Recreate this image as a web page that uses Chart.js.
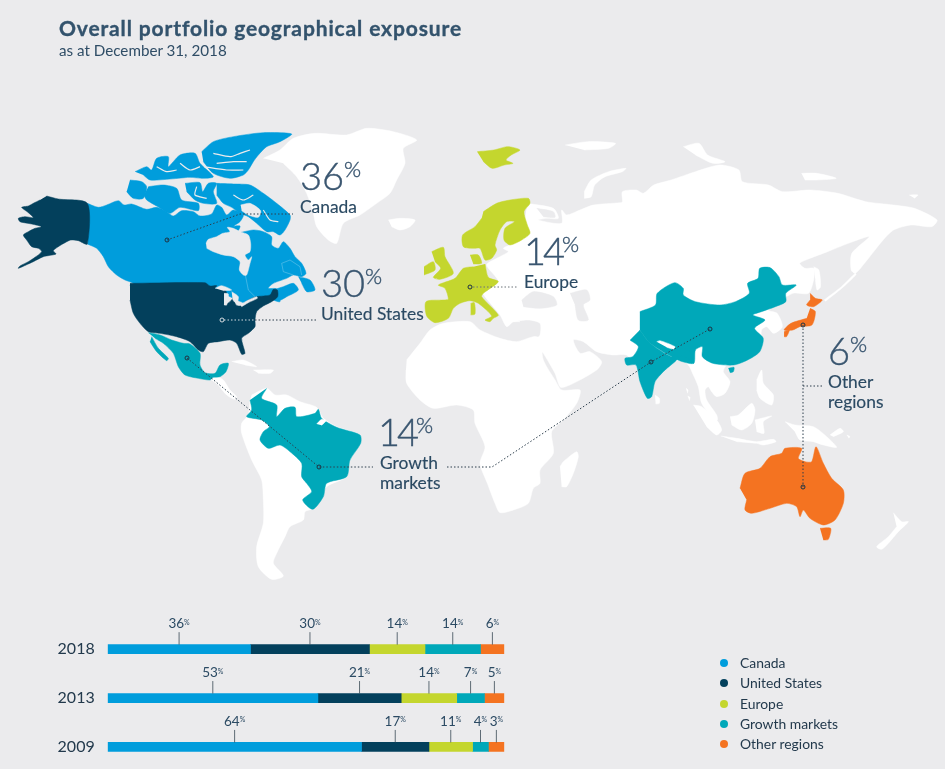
<!DOCTYPE html>
<html>
<head>
<meta charset="utf-8">
<title>Overall portfolio geographical exposure</title>
<script src="https://cdn.jsdelivr.net/npm/chart.js@4"></script>
<style>
  html, body { margin: 0; padding: 0; background: #ebebed; }
  body { position: relative; width: 945px; height: 769px; overflow: hidden; font-family: Lato, sans-serif; color: #2f4d66; }
  canvas { position: absolute; }
  .txt { position: absolute; white-space: nowrap; line-height: 1; }
  .big { font-size: 38px; font-weight: 300; color: #3a5670; -webkit-text-stroke: .4px #3a5670; }
  .big sup { font-size: 22px; vertical-align: 13px; line-height: 0; letter-spacing: 0; }
  .lab { font-size: 17.4px; line-height: 20px; color: #2b4a63; -webkit-text-stroke: .15px #2b4a63; }
  .leg { font-size: 13.9px; color: #22394c; }
  .dot { position: absolute; width: 8px; height: 8px; border-radius: 50%; }
</style>
</head>
<body>
<canvas id="mapa" width="945" height="769" style="left:0;top:0"></canvas>
<canvas id="barras" width="520" height="194" style="left:0;top:600px"></canvas>

<div class="txt" id="titulo" style="left:59px;top:17px;font-size:21px;font-weight:700;letter-spacing:.87px;color:#33536d;-webkit-text-stroke:.35px #33536d"></div>
<div class="txt" id="subtitulo" style="left:59px;top:43px;font-size:15.2px;color:#2f4d66"></div>
<div id="rotulos"></div>
<div id="legenda"></div>

<script>
const titulo = 'Overall portfolio geographical exposure';
const subtitulo = 'as at December 31, 2018';

const anos = ['2018', '2013', '2009'];
const regioes = ['Canada', 'United States', 'Europe', 'Growth markets', 'Other regions'];
const canada = [36, 53, 64];
const estadosUnidos = [30, 21, 17];
const europa = [14, 14, 11];
const crescimento = [14, 7, 4];
// the 2009 row prints 3% but the bar is drawn 4 wide, so it still reaches the end
const outras = [6, 5, 4];
const outrasImpresso = [6, 5, 3];

const cores = ['#009ddc', '#03405c', '#c4d62e', '#00a8b9', '#f47321'];
const corBranco = '#ffffff';
const corFundo = '#ebebed';

// callouts on the map
const destaques = [
  { pct: '36', nome: ['Canada'], x: 300, y: 156, lx: 300 },
  { pct: '30', nome: ['United States'], x: 321, y: 263, lx: 321 },
  { pct: '14', nome: ['Europe'], x: 524, y: 231, lx: 524 },
  { pct: '14', nome: ['Growth', 'markets'], x: 378, y: 412, lx: 380 },
  { pct: '6', nome: ['Other', 'regions'], x: 828, y: 331, lx: 828 }
];

// crop frames the outlines were traced in
const A = [0, 120, 3, 3];
const B = [120, 320, 3, 3];
const C = [400, 130, 2.877, 3];
const D = [560, 340, 3, 3];
const E = [400, 310, 3, 3];
const G = [420, 190, 3, 3];

function pts(q, lista) {
  const saida = [];
  for (let i = 0; i < lista.length; i += 2) {
    saida.push({ x: q[0] + lista[i] / q[2], y: q[1] + lista[i + 1] / q[3] });
  }
  return saida;
}

const alasca = pts(A, [140,228, 175,237, 262,250, 262,372, 235,362, 212,360, 195,368, 178,378, 160,392, 168,402, 130,410, 100,425, 78,435, 55,445, 60,438, 85,425, 105,412, 125,395, 115,385, 95,380, 80,360, 70,345, 85,335, 105,325, 125,320, 95,312, 60,305, 55,295, 75,290, 100,293, 85,278, 65,262, 85,258, 100,250, 120,240]);
const canadaMain = pts(A, [262,250, 295,262, 320,255, 355,242, 372,255, 395,252, 440,268, 470,262, 500,275, 520,288, 545,272, 580,275, 600,288, 635,282, 650,255, 665,262, 680,285, 700,270, 730,285, 720,305, 700,320, 700,340, 760,330, 790,335, 815,350, 815,375, 835,385, 850,365, 870,385, 885,410, 905,430, 918,460, 905,470, 880,465, 860,475, 820,490, 805,505, 830,507, 840,545, 800,535, 740,550, 700,535, 640,505, 615,495, 390,495, 405,505, 400,490, 375,480, 350,465, 325,440, 310,410, 290,385, 262,372]);
const maritimas = pts(A, [825,508, 850,500, 880,490, 895,510, 860,530, 840,540, 830,525]);
const terraNova = pts(A, [895,470, 930,480, 945,510, 920,515, 905,490]);
const baiaHudson = pts(A, [618,370, 625,358, 650,350, 668,340, 690,335, 682,322, 700,325, 720,335, 745,345, 752,370, 750,395, 735,405, 745,420, 755,410, 750,430, 740,465, 730,465, 718,450, 720,425, 700,410, 670,405, 640,395, 620,385]);
const ilhasArticas = [
  pts(A, [605,95, 640,65, 700,50, 790,38, 875,42, 840,65, 800,80, 775,105, 760,125, 745,150, 730,165, 690,175, 640,160, 610,125]),
  pts(A, [650,190, 700,192, 750,195, 790,220, 830,250, 870,285, 870,300, 855,330, 840,345, 820,335, 800,335, 770,310, 745,290, 720,280, 695,262, 670,250, 650,225]),
  pts(A, [555,190, 600,188, 608,215, 625,190, 650,190, 640,215, 650,250, 610,250, 585,240, 560,215]),
  pts(A, [405,155, 440,140, 455,150, 470,115, 505,110, 505,140, 540,105, 585,100, 600,130, 640,170, 610,175, 570,172, 535,175, 500,178, 450,180, 430,165]),
  pts(A, [390,180, 425,185, 440,200, 430,235, 400,235, 380,215]),
  pts(A, [445,200, 490,195, 530,205, 545,240, 595,250, 595,272, 540,262, 510,280, 470,258, 440,240, 432,225]),
  pts(A, [690,320, 720,318, 712,335, 695,335])
];
const foxe = pts(A, [722,255, 750,250, 782,272, 775,292, 745,285, 725,272]);
const canaisArticos = [
  pts(A, [640,100, 690,110, 720,100, 750,90]),
  pts(A, [650,130, 700,125, 740,125]),
  pts(A, [612,140, 680,150, 730,150]),
  pts(A, [470,140, 500,155, 530,150]),
  pts(A, [540,130, 570,150, 600,140]),
  pts(A, [700,225, 730,240, 760,225]),
  pts(A, [790,270, 810,300, 835,305]),
  pts(A, [590,200, 585,225, 620,235])
];
// faint provincial borders seen inside Canada
const divisas = [
  pts(A, [735,460, 745,510, 765,530]),
  pts(A, [845,430, 870,420, 900,440, 905,465]),
  pts(A, [845,430, 850,455, 880,465])
];
const eua = pts(A, [390,490, 615,488, 630,498, 650,497, 645,505, 675,510, 680,520, 672,555, 690,545, 700,535, 708,555, 720,558, 745,540, 770,530, 810,525, 820,508, 832,510, 833,530, 815,545, 790,558, 770,575, 765,600, 765,620, 745,640, 725,655, 735,700, 725,703, 710,670, 690,660, 655,665, 625,670, 610,695, 595,690, 570,665, 530,650, 480,640, 445,635, 420,610, 400,580, 390,540]);
const lagos = [
  pts(A, [645,505, 665,497, 695,510, 670,512]),
  pts(A, [672,520, 685,522, 680,555, 672,555]),
  pts(A, [695,515, 715,530, 710,550, 698,540]),
  pts(A, [720,555, 745,540, 770,530, 772,535, 745,548, 725,560])
];
const groenlandia = pts(A, [790,115, 840,90, 880,55, 945,40, 1040,45, 1100,25, 1180,35, 1250,60, 1210,85, 1215,130, 1190,180, 1170,220, 1130,250, 1080,285, 1030,310, 1010,370, 985,360, 950,320, 940,280, 920,220, 890,170, 850,130]);
const islandia = pts(A, [1165,300, 1200,295, 1245,300, 1230,320, 1200,330, 1175,320]);

const mexico = pts(B, [85,38, 120,45, 155,60, 190,70, 210,72, 240,100, 240,135, 255,158, 285,160, 300,135, 325,130, 318,155, 300,170, 280,172, 270,180, 235,175, 195,165, 175,140, 160,100, 130,70, 105,55]);
const bajaCalifornia = pts(B, [95,50, 115,85, 145,115, 140,122, 110,95, 90,65]);
const americaCentral = pts(B, [270,178, 290,170, 310,180, 330,210, 350,230, 345,238, 320,225, 295,195]);
const cuba = pts(B, [335,125, 370,120, 410,140, 375,135]);
const hispaniola = pts(B, [400,150, 460,150, 450,160, 415,160]);
const americaSul = pts(B, [395,225, 440,205, 465,225, 500,225, 540,245, 590,262, 610,295, 650,320, 720,345, 720,370, 690,420, 680,470, 620,500, 580,565, 555,575, 550,600, 510,620, 495,650, 470,700, 460,730, 490,768, 455,778, 415,740, 410,680, 430,610, 430,540, 425,480, 395,420, 365,340, 365,310, 385,285, 390,240]);
const colombiaBrasil = pts(B, [440,205, 425,235, 470,255, 470,290, 495,265, 525,262, 530,290, 585,280, 595,268, 605,295, 650,322, 720,345, 722,370, 690,420, 680,470, 620,490, 610,530, 578,568, 548,540, 575,515, 560,490, 545,470, 545,430, 510,395, 480,375, 445,385, 420,360, 430,335, 448,320, 425,300, 380,290, 395,270, 390,240]);
const amazonas = pts(B, [590,312, 605,298, 618,302, 605,316]);

const africa = pts(E, [20,150, 60,100, 90,60, 130,40, 210,35, 240,60, 300,85, 350,95, 400,80, 420,85, 430,150, 465,210, 485,240, 540,240, 530,280, 490,330, 455,365, 460,430, 420,480, 420,520, 400,535, 385,580, 340,600, 300,608, 285,580, 262,520, 240,460, 255,410, 225,340, 220,300, 170,285, 100,295, 60,270, 20,220, 18,180]);
const madagascar = pts(D, [0,380, 10,365, 50,335, 55,350, 40,400, 20,440, 5,440]);

const eurasia = [
  ...pts(G, [322,40, 400,55, 415,85, 380,85, 355,90, 425,100, 425,60, 440,75, 480,60, 520,45, 600,38]),
  ...pts(C, [640,215, 640,185, 680,180, 700,190, 730,165, 780,150, 850,125, 920,105, 975,120, 985,155, 1060,165, 1100,185, 1180,180, 1260,190, 1340,215, 1420,225, 1480,235, 1545,270, 1530,290, 1470,285, 1420,300, 1390,330, 1340,395, 1310,430, 1298,420, 1300,370, 1350,320, 1290,340, 1230,365, 1180,385, 1150,400, 1165,415, 1190,415, 1190,450, 1175,490, 1130,490, 1060,540, 1085,550, 1100,590, 1075,610, 1055,590, 1040,600, 1040,640]),
  ...pts(D, [600,30, 560,60, 520,75, 500,75, 490,95, 510,125, 495,160, 470,170, 455,155, 445,140, 435,150, 440,180, 470,225, 472,240, 455,230, 425,190, 415,140, 400,105, 385,75, 360,60, 345,65, 310,95, 280,110, 240,90]),
  ...pts(E, [680,135, 640,135, 590,125, 550,95, 520,90, 540,130, 570,125, 605,155, 590,180, 520,220, 482,232, 465,190, 430,130, 403,95, 420,75, 420,40, 385,30, 340,35]),
  ...pts(G, [300,395, 280,395, 260,410, 240,375, 195,320, 190,310, 235,275, 200,225, 230,205, 265,185, 250,175, 270,165, 305,150])
];
const marNegro = pts(G, [305,330, 340,305, 400,320, 410,345, 360,355, 310,350]);
const marCaspio = pts(G, [450,310, 500,300, 510,330, 490,345, 505,390, 475,390, 465,345]);
const marBranco = pts(G, [350,55, 400,65, 405,82, 370,80]);
const ilhasBrancas = [
  pts(C, [530,185, 550,150, 600,125, 650,115, 640,125, 590,140, 560,165, 550,200, 530,205]),
  pts(C, [475,45, 540,35, 620,40, 600,55, 530,60]),
  pts(C, [815,50, 860,40, 885,75, 935,95, 900,100, 850,75]),
  pts(C, [1155,130, 1200,130, 1255,145, 1200,150, 1165,150]),
  pts(C, [1465,195, 1490,195, 1480,205]),
  pts(C, [1190,410, 1205,420, 1210,470, 1200,480, 1195,450]),
  pts(C, [1220,510, 1270,470, 1310,430, 1312,434, 1272,474, 1224,514]),
  pts(D, [285,165, 298,175, 298,190, 287,192]),
  pts(D, [400,195, 425,200, 470,240, 485,270, 470,285, 440,260]),
  pts(D, [482,288, 530,295, 590,305, 640,298, 648,305, 610,315, 590,310, 530,305]),
  pts(D, [510,230, 535,225, 575,190, 585,210, 575,250, 545,270, 515,255]),
  pts(D, [585,240, 635,228, 610,245, 612,280, 590,275]),
  pts(D, [590,120, 605,90, 610,130, 640,165, 635,195, 600,175, 590,150]),
  pts(D, [675,245, 705,255, 760,260, 800,290, 830,322, 790,315, 760,305, 720,300, 705,275]),
  pts(D, [810,285, 840,265, 850,275, 820,290]),
  pts(D, [860,285, 870,290, 866,294]),
  pts(D, [378,145, 384,150, 382,160]),
  pts(D, [383,168, 390,172, 388,182]),
  pts(D, [1000,518, 1025,545, 1045,545, 1015,575, 985,610, 965,628, 950,620, 985,590, 1010,560])
];

const escandinavia = pts(G, [190,65, 230,40, 270,30, 325,25, 330,40, 312,65, 322,105, 330,130, 305,150, 270,165, 252,150, 255,115, 283,95, 260,95, 240,120, 225,165, 230,180, 215,205, 195,210, 180,175, 160,175, 130,170, 128,135, 165,110, 185,85]);
const dinamarca = pts(G, [150,195, 175,195, 185,220, 160,222]);
const reinoUnido = pts(G, [35,185, 70,172, 75,200, 100,250, 60,268, 40,262, 62,235, 45,215]);
const irlanda = pts(G, [12,230, 40,215, 45,240, 12,255]);
const europaCentral = pts(G, [195,222, 205,262, 235,275, 190,310, 185,320, 235,375, 220,385, 210,395, 195,390, 215,378, 175,340, 150,332, 120,340, 100,355, 85,385, 45,398, 20,378, 18,335, 70,330, 85,328, 75,295, 55,285, 105,265, 130,235, 160,230]);
const sardenha = pts(G, [152,340, 163,338, 165,372, 152,375]);
const svalbard = pts(C, [222,65, 270,60, 310,50, 345,60, 320,75, 305,90, 325,100, 300,105, 265,115, 240,95]);

const china = pts(C, [690,545, 735,525, 740,490, 790,458, 815,475, 815,495, 850,515, 920,525, 965,515, 1005,490, 1000,460, 1030,445, 1035,415, 1065,413, 1090,440, 1100,465, 1140,465, 1110,490, 1110,515, 1080,530, 1040,545, 1015,555, 1050,570, 1020,595, 1045,625, 1035,665, 1000,690, 960,705, 900,700, 870,680, 870,650, 850,660, 845,700, 800,690, 720,640, 690,600]);
const india = [
  ...pts(C, [690,600, 720,640, 780,680, 820,680, 845,700]),
  ...pts(D, [385,30, 345,65, 310,95, 285,125, 275,170, 262,175, 240,125, 228,75, 200,75, 195,55, 218,50, 235,20, 210,0])
];
const nepal = pts(D, [290,5, 300,2, 345,20, 340,27, 320,22]);
const hainan = pts(D, [505,85, 522,82, 520,95, 510,98]);
const hokkaido = pts(C, [1180,490, 1195,505, 1215,510, 1190,530, 1170,525, 1180,510]);
const honshu = pts(C, [1180,535, 1195,545, 1185,585, 1150,590, 1130,600, 1105,600, 1125,580, 1170,565]);
const kyushu = pts(C, [1105,605, 1120,600, 1112,620, 1105,620]);
const australia = pts(D, [540,445, 555,400, 600,385, 630,350, 665,340, 675,325, 725,325, 715,355, 735,365, 755,365, 768,320, 790,370, 815,415, 850,450, 850,490, 825,540, 790,555, 750,535, 730,510, 720,530, 710,500, 680,490, 630,505, 575,520, 555,510, 560,480]);
const tasmania = pts(D, [780,565, 812,565, 805,598, 790,600]);

// leader lines and their end dots, in page coordinates
const guiaEscura = [
  [{x:167,y:240},{x:240,y:214},{x:293,y:214}],
  [{x:255,y:320},{x:316,y:320}],
  [{x:187,y:358},{x:319,y:467},{x:373,y:467}],
  [{x:447,y:467},{x:492,y:467},{x:651,y:362},{x:710,y:329}],
  [{x:803,y:325},{x:803,y:487}],
  [{x:803,y:386},{x:822,y:386}]
];
const guiaClara = [[{x:224,y:320},{x:255,y:320}]];
const guiaCinza = [[{x:473,y:287},{x:517,y:287}]];
const pontasEscuras = [{x:167,y:240},{x:470,y:287},{x:187,y:358},{x:319,y:467},{x:651,y:362},{x:710,y:329},{x:803,y:325},{x:803,y:487}];
const pontasClaras = [{x:222,y:320}];

function terra(cor, forma) {
  return { data: forma, showLine: true, fill: 'shape', backgroundColor: cor, borderColor: cor, borderWidth: 0.5, pointRadius: 0, tension: 0.25 };
}
function guia(cor, linha) {
  return { data: linha, showLine: true, fill: false, borderColor: cor, borderWidth: 1, borderDash: [1.5, 2], pointRadius: 0 };
}

// painter's order, reversed below because Chart.js draws the first dataset last
const camadas = [
  ...[groenlandia, islandia, africa, madagascar, americaSul, americaCentral, cuba, hispaniola, eurasia, ...ilhasBrancas].map(f => terra(corBranco, f)),
  ...[marNegro, marCaspio, marBranco].map(f => terra(corFundo, f)),
  ...[canadaMain, maritimas, terraNova, ...ilhasArticas].map(f => terra(cores[0], f)),
  terra(corFundo, baiaHudson),
  terra(corFundo, foxe),
  ...canaisArticos.map(f => ({ data: f, showLine: true, fill: false, borderColor: corFundo, borderWidth: 1.2, pointRadius: 0, tension: 0.25 })),
  ...divisas.map(f => ({ data: f, showLine: true, fill: false, borderColor: 'rgba(255,255,255,.35)', borderWidth: 0.7, pointRadius: 0 })),
  ...[alasca, eua].map(f => terra(cores[1], f)),
  ...lagos.map(f => terra(corFundo, f)),
  ...[escandinavia, dinamarca, reinoUnido, irlanda, europaCentral, sardenha, svalbard].map(f => terra(cores[2], f)),
  ...[mexico, bajaCalifornia, colombiaBrasil, china, india, hainan].map(f => terra(cores[3], f)),
  terra(corBranco, nepal),
  terra(corBranco, amazonas),
  ...[hokkaido, honshu, kyushu, australia, tasmania].map(f => terra(cores[4], f)),
  ...guiaEscura.map(l => guia('#2c3e4c', l)),
  ...guiaClara.map(l => guia('#d5dbe0', l)),
  ...guiaCinza.map(l => guia('#6a7278', l)),
  { data: pontasEscuras, showLine: false, pointRadius: 2, pointBackgroundColor: 'rgba(0,0,0,0)', pointBorderColor: '#1d3344', pointBorderWidth: 1 },
  { data: pontasClaras, showLine: false, pointRadius: 2, pointBackgroundColor: 'rgba(0,0,0,0)', pointBorderColor: '#d5dbe0', pointBorderWidth: 1 }
];

new Chart(document.getElementById('mapa').getContext('2d'), {
  type: 'scatter',
  data: { datasets: camadas.reverse() },
  options: {
    responsive: false,
    animation: false,
    events: [],
    layout: { padding: 0, autoPadding: false },
    plugins: { legend: { display: false }, tooltip: { enabled: false } },
    scales: {
      x: { display: false, min: 0, max: 945 },
      y: { display: false, min: 0, max: 769, reverse: true }
    }
  }
});

// number above each bar segment with its short tick
const rotulosBarras = {
  id: 'rotulosBarras',
  afterDatasetsDraw(chart) {
    const ctx = chart.ctx;
    chart.data.datasets.forEach((ds, i) => {
      chart.getDatasetMeta(i).data.forEach((barra, j) => {
        const meio = (barra.x + barra.base) / 2;
        const topo = barra.y - 4.5;
        ctx.save();
        ctx.strokeStyle = '#3a4a56';
        ctx.lineWidth = 0.8;
        ctx.beginPath();
        ctx.moveTo(meio, topo);
        ctx.lineTo(meio, topo - 12.5);
        ctx.stroke();
        const num = String(ds.rotulos[j]);
        ctx.fillStyle = '#2b4a63';
        ctx.textBaseline = 'alphabetic';
        ctx.font = '13.5px Lato';
        const w1 = ctx.measureText(num).width;
        ctx.font = '7px Lato';
        const w2 = ctx.measureText('%').width;
        ctx.font = '13.5px Lato';
        ctx.fillText(num, meio - (w1 + w2) / 2, topo - 16.5);
        ctx.font = '7px Lato';
        ctx.fillText('%', meio - (w1 + w2) / 2 + w1, topo - 20);
        ctx.restore();
      });
    });
  }
};

const series = [canada, estadosUnidos, europa, crescimento, outras];
const graficoBarras = new Chart(document.getElementById('barras').getContext('2d'), {
  type: 'bar',
  data: {
    labels: anos,
    datasets: regioes.map((r, i) => ({
      label: r,
      data: series[i],
      rotulos: i === 4 ? outrasImpresso : series[i],
      backgroundColor: cores[i],
      barThickness: 9
    }))
  },
  options: {
    indexAxis: 'y',
    responsive: false,
    animation: false,
    events: [],
    layout: { padding: { top: 24.7, bottom: 0.3, left: 0, right: 15.7 }, autoPadding: false },
    plugins: { legend: { display: false }, tooltip: { enabled: false } },
    scales: {
      x: { display: false, stacked: true, min: 0, max: 100 },
      y: {
        stacked: true,
        grid: { display: false, drawTicks: false },
        border: { display: false },
        afterFit(scale) { scale.width = 107.7; },
        ticks: { color: '#22394c', padding: 13, font: { family: 'Lato', size: 16 } }
      }
    }
  },
  plugins: [rotulosBarras]
});

document.getElementById('titulo').textContent = titulo;
document.getElementById('subtitulo').textContent = subtitulo;

let html = '';
destaques.forEach(d => {
  const aperto = d.pct[0] === '1' ? 'letter-spacing:-3px;' : '';
  html += `<div class="txt big" style="left:${d.x}px;top:${d.y}px;${aperto}">${d.pct}<sup>%</sup></div>`;
  html += `<div class="txt lab" style="left:${d.lx}px;top:${d.y + 41}px">${d.nome.join('<br>')}</div>`;
});
document.getElementById('rotulos').innerHTML = html;

// legend read back from the bar chart's datasets
let htmlLegenda = '';
graficoBarras.data.datasets.forEach((ds, i) => {
  const y = 663 + i * 20.3;
  htmlLegenda += `<span class="dot" style="left:720px;top:${y - 4}px;background:${ds.backgroundColor}"></span>`;
  htmlLegenda += `<div class="txt leg" style="left:740px;top:${y - 7}px">${ds.label}</div>`;
});
document.getElementById('legenda').innerHTML = htmlLegenda;
</script>
</body>
</html>
